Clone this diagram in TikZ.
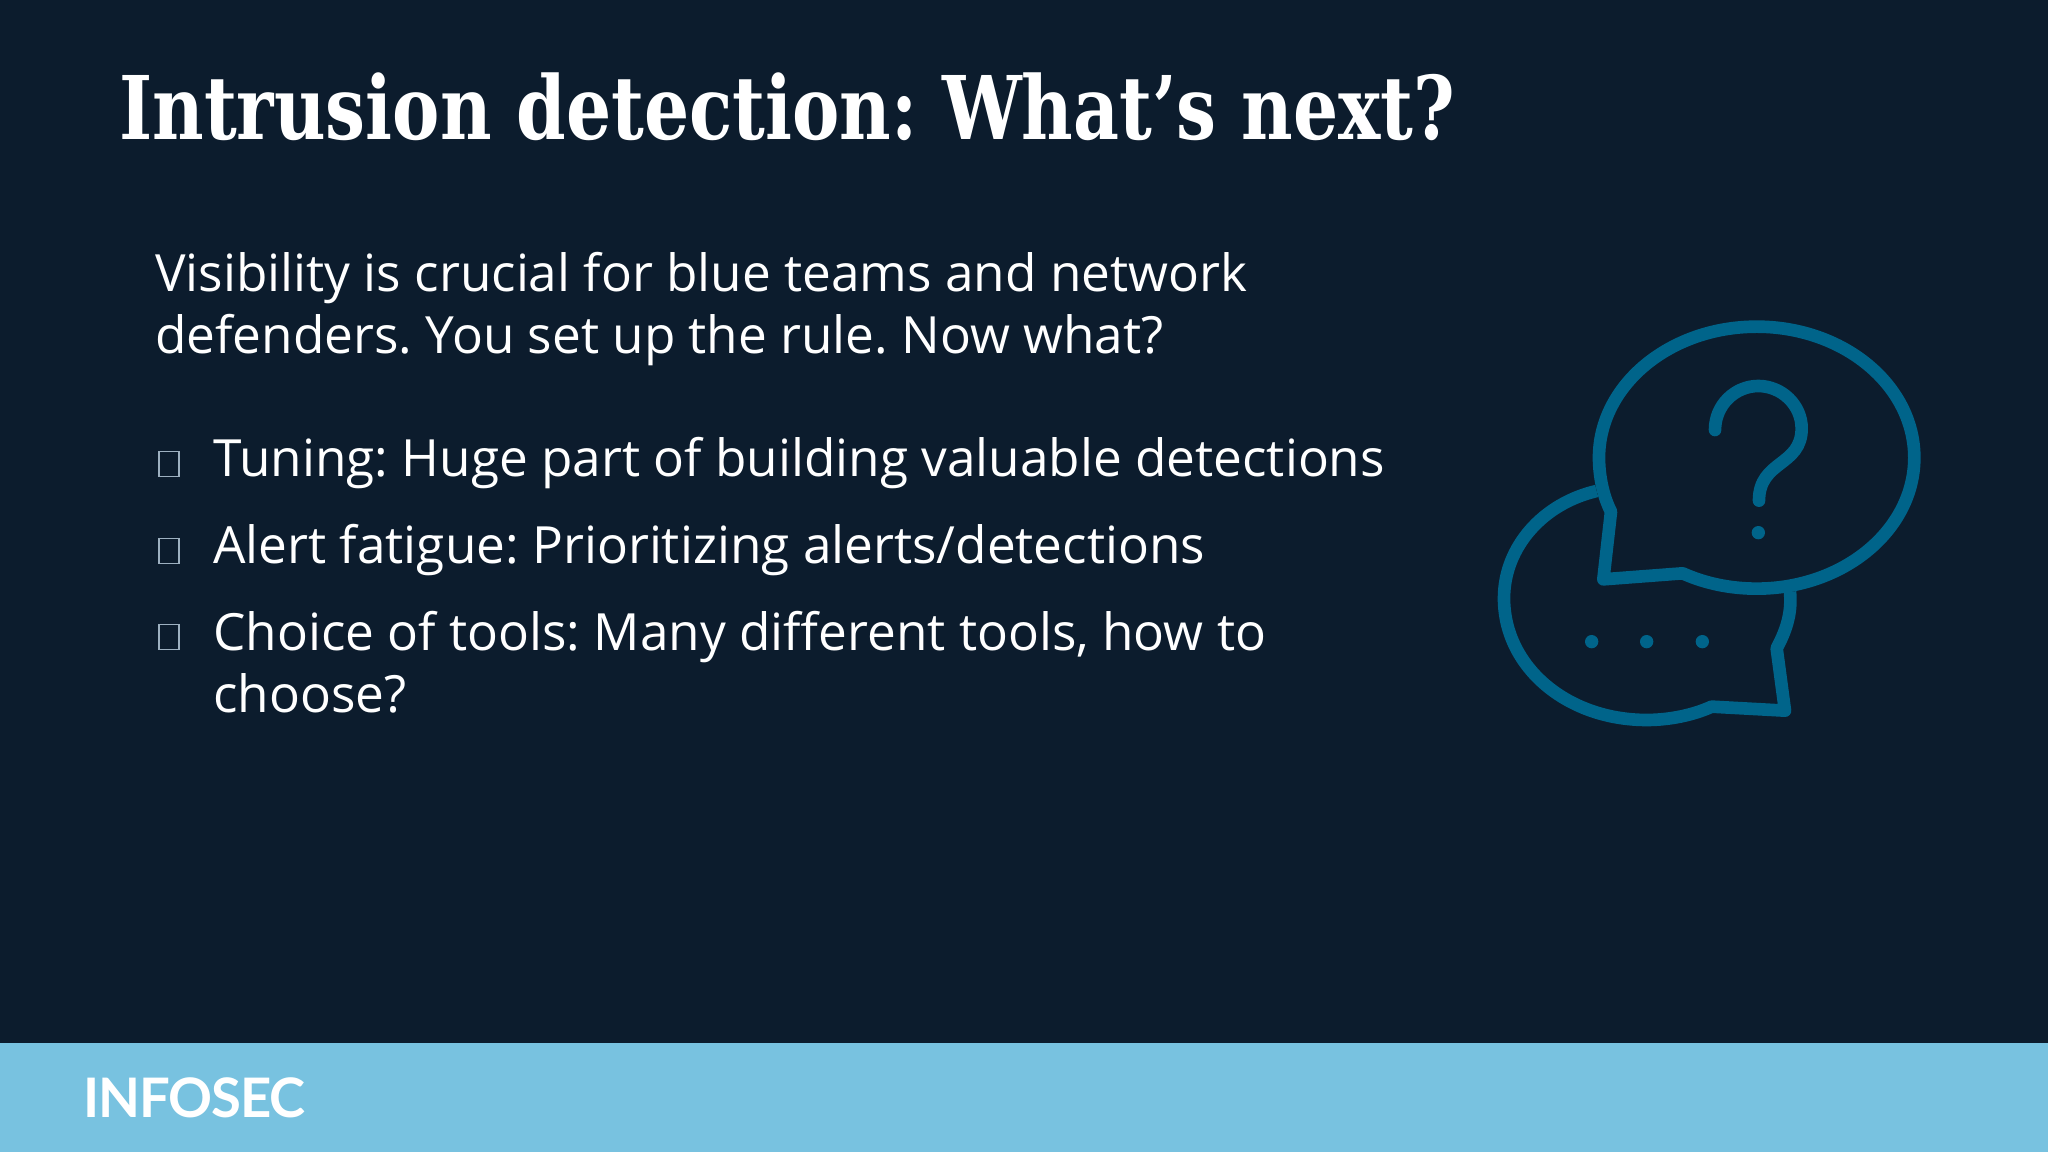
\documentclass[tikz,border=0pt]{standalone}
\usepackage{fontspec}
\setmainfont{Open Sans}
\newfontfamily\titlefont[FakeStretch=0.808]{DejaVu Serif}
\newfontfamily\logofont[LetterSpace=-2]{Lato}
\definecolor{slidebg}{HTML}{0C1C2D}
\definecolor{bandblue}{HTML}{78C2E0}
\definecolor{iconblue}{HTML}{00648A}
\definecolor{boxgrey}{HTML}{9DB0C0}
\frenchspacing
\tikzset{
  title/.style={anchor=base west,inner sep=0pt,text=white,font=\titlefont\bfseries\fontsize{50}{60}\selectfont},
  body/.style={anchor=north west,inner sep=0pt,text=white,align=left,font=\fontsize{29.2}{35.2}\selectfont},
  bulletbox/.style={draw=boxgrey,line width=.6pt,inner sep=0pt,minimum width=.4cm,minimum height=.5cm},
  icon/.style={draw=iconblue,line width=7.2pt,line cap=round,line join=round}
}
\begin{document}
\begin{tikzpicture}
  [x=.02cm,y=-.02cm]
  \fill[slidebg] (0,0) rectangle (2048,1152);
  \fill[bandblue] (0,1043) rectangle (2048,1152);
  \node[title] (heading) at (119,140) {Intrusion detection: What’s next?};
  \node[body] (intro) at (155,252) {Visibility is crucial for blue teams and network\\defenders. You set up the rule. Now what?};
  \node[body] (tuning) at (213,437) {Tuning: Huge part of building valuable detections};
  \node[body] (fatigue) at (213,524) {Alert fatigue: Prioritizing alerts/detections};
  \node[body] (tools) at (213,611) {Choice of tools: Many different tools, how to\\choose?};
  \node[bulletbox] (b1) at (169,464) {};
  \node[bulletbox] (b2) at (169,551) {};
  \node[bulletbox] (b3) at (169,637) {};
  \node[anchor=base west,inner sep=0pt,text=white,font=\logofont\bfseries\fontsize{31}{37}\selectfont] (logo) at (83,1117) {INFOSEC};
  \begin{scope}[shift={(1460,290)},x=.0066667cm,y=-.0066667cm]
    % question bubble
    \draw[icon] (668,850) .. controls (735,880) and (810,896) .. (890,896)
      .. controls (1151,896) and (1363,720) .. (1363,503)
      .. controls (1363,286) and (1151,110) .. (890,110)
      .. controls (629,110) and (417,286) .. (417,503)
      .. controls (417,560) and (430,620) .. (453,665)
      -- (430,868) -- cycle;
    % answer bubble
    \draw[icon,line cap=butt] (410,603) .. controls (250,640) and (132,770) .. (132,925)
      .. controls (132,1130) and (320,1290) .. (560,1290)
      .. controls (630,1290) and (700,1275) .. (755,1250)
      -- (975,1262) -- (950,1075)
      .. controls (985,1010) and (995,960) .. (990,905);
    % question mark
    \draw[icon] (765,420) .. controls (765,345) and (825,288) .. (895,288)
      .. controls (965,288) and (1025,345) .. (1025,415)
      .. controls (1025,530) and (897,510) .. (897,632);
    \fill[iconblue] (895,728) circle (20);
    \foreach \xdot in {395,560,727}
      \fill[iconblue] (\xdot,1055) circle (20);
  \end{scope}
\end{tikzpicture}
\end{document}
